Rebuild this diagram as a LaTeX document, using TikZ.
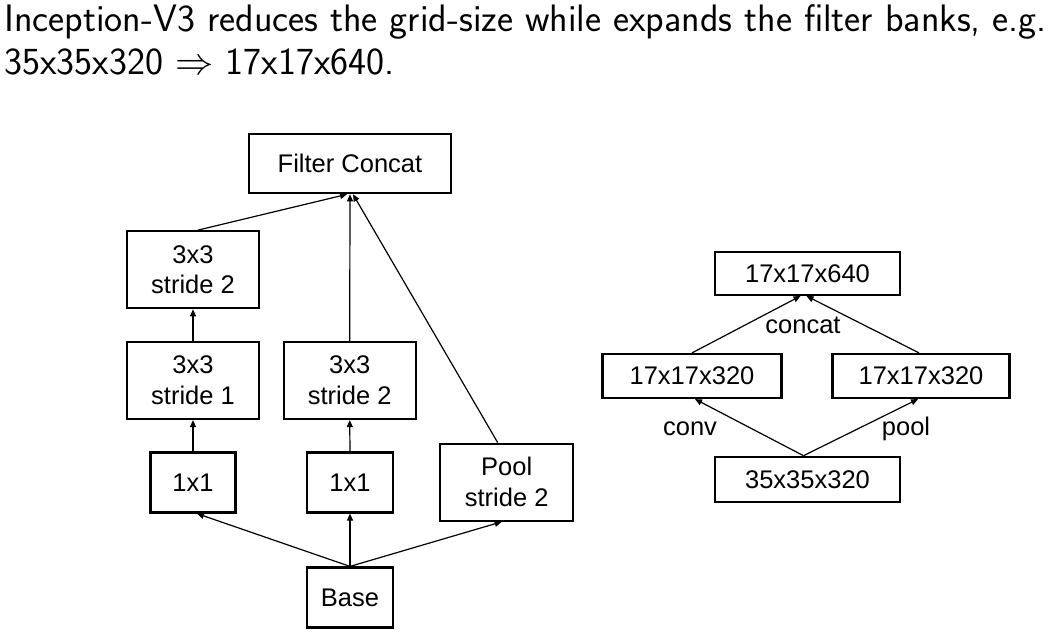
\documentclass[tikz,border=0pt]{standalone}
\usepackage{fix-cm}
\usepackage{fontspec}
\newfontfamily\arialf{Liberation Sans}
\usetikzlibrary{arrows.meta}
\begin{document}
\begin{tikzpicture}[x=1pt,y=-1pt,
  box/.style={draw=black,line width=2.2pt,inner sep=0pt,align=center,
    font=\arialf\fontsize{25.5}{30.7}\selectfont},
  lbl/.style={inner sep=0pt,anchor=base,font=\arialf\fontsize{25.5}{30.7}\selectfont},
  ttl/.style={inner sep=0pt,anchor=base west,font=\sffamily\fontsize{38.3}{43}\selectfont},
  arr/.style={line width=1.2pt,-{Triangle[length=7pt,width=6pt]}},
  ln/.style={line width=1.2pt}]
\useasboundingbox (0,0) rectangle (1055,639);
\fill[white] (0,0) rectangle (1055,639);
% title
\node[ttl] (t1) at (4,31.7) {Inception-V3 reduces the grid-size while expands the filter banks, e.g.};
\node[ttl] (t2) at (4,75) {35x35x320 $\Rightarrow$ 17x17x640.};
% left diagram
\node[box,minimum width=202pt,minimum height=59pt] (fc) at (350,163.7) {Filter Concat};
\node[box,minimum width=132pt,minimum height=77pt] (s2l) at (193,269.7) {3x3\\stride 2};
\node[box,minimum width=132pt,minimum height=77pt] (s1) at (193,380.5) {3x3\\stride 1};
\node[box,minimum width=132pt,minimum height=77pt] (s2m) at (349.7,380.5) {3x3\\stride 2};
\node[box,minimum width=85pt,minimum height=60pt] (c1l) at (193,482.5) {1x1};
\node[box,minimum width=86pt,minimum height=60pt] (c1m) at (350,482.5) {1x1};
\node[box,minimum width=133pt,minimum height=77pt] (pool) at (506.7,482.2) {Pool\\stride 2};
\node[box,minimum width=86pt,minimum height=60pt] (base) at (350,597.5) {Base};
\draw[arr] (base.north) -- ([xshift=4pt]c1l.south);
\draw[arr] (base.north) -- (c1m.south);
\draw[arr] (base.north) -- ([xshift=-5pt]pool.south);
\draw[arr] (c1l.north) -- (s1.south);
\draw[arr] (c1m.north) -- (s2m.south);
\draw[arr] (s1.north) -- (s2l.south);
\draw[arr] ([xshift=5pt]s2l.north) -- ([xshift=-3pt]fc.south);
\draw[arr] (s2m.north) -- (fc.south);
\draw[arr] ([xshift=-9pt]pool.north) -- ([xshift=3pt]fc.south);
% right diagram
\node[box,minimum width=185pt,minimum height=43pt] (r640) at (807.5,273.4) {17x17x640};
\node[box,minimum width=179pt,minimum height=44pt] (r320l) at (692,376) {17x17x320};
\node[box,minimum width=177pt,minimum height=44pt] (r320r) at (921,376) {17x17x320};
\node[box,minimum width=185pt,minimum height=45pt] (r35) at (807.5,479.3) {35x35x320};
\draw[arr] (r320l.north) -- ([xshift=-7pt]r640.south);
\draw[arr] ([xshift=-2pt]r320r.north) -- ([xshift=-1pt]r640.south);
\draw[arr] ([xshift=-4pt]r35.north) -- ([xshift=3pt]r320l.south);
\draw[arr] ([xshift=-4pt]r35.north) -- ([xshift=-3pt]r320r.south);
\node[lbl] (lc) at (803,333.3) {concat};
\node[lbl] (lv) at (690,435) {conv};
\node[lbl] (lp) at (906,435) {pool};
\end{tikzpicture}
\end{document}
